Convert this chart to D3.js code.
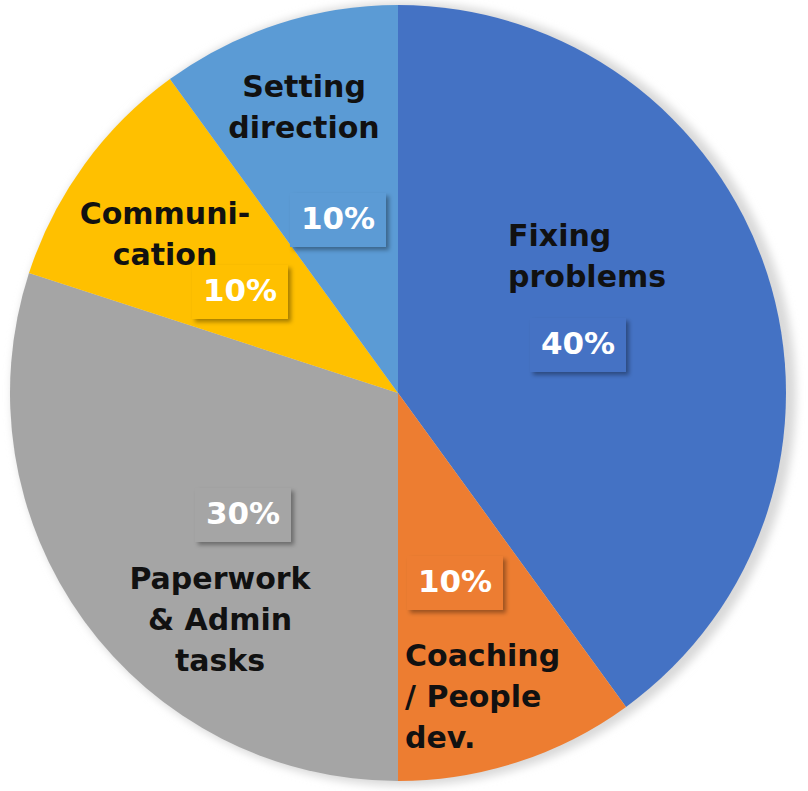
<!DOCTYPE html>
<html><head><meta charset="utf-8">
<script src="https://cdn.jsdelivr.net/npm/d3@7"></script>
<style>body{margin:0;background:#fff}svg{display:block}</style>
</head><body>
<script>
const categories = ["Fixing problems","Coaching / People dev.","Paperwork & Admin tasks","Communication","Setting direction"];
const values = [40,10,30,10,10];
const colors = ["#4472C4","#ED7D31","#A5A5A5","#FFC000","#5B9BD5"];
const nameLines = [["Fixing","problems"],["Coaching","/ People","dev."],["Paperwork","& Admin","tasks"],["Communi-","cation"],["Setting","direction"]];
const namePos = [[508,237,"start"],[405,657,"start"],[220,580,"middle"],[165,215,"middle"],[304,88,"middle"]];
const pctPos = [[578,345],[455,583],[243,515],[240,292],[338,220]];

const W=808,H=791,cx=398,cy=393,R=388;
const svg=d3.select("body").append("svg").attr("width",W).attr("height",H);
const defs=svg.append("defs");
const f=defs.append("filter").attr("id","blur").attr("x","-10%").attr("y","-10%").attr("width","120%").attr("height","120%");
f.append("feGaussianBlur").attr("stdDeviation",4);
const s=defs.append("filter").attr("id","sh").attr("x","-20%").attr("y","-20%").attr("width","150%").attr("height","150%");
s.append("feDropShadow").attr("dx",3).attr("dy",3).attr("stdDeviation",2).attr("flood-color","#000").attr("flood-opacity",0.35);

svg.append("circle").attr("cx",cx+6).attr("cy",cy+1).attr("r",R+4).attr("fill","#d9d9d9").attr("filter","url(#blur)");
const g=svg.append("g").attr("transform",`translate(${cx},${cy})`);
const pie=d3.pie().sort(null).value(d=>d)(values);
const arc=d3.arc().innerRadius(0).outerRadius(R);
g.selectAll("path").data(pie).join("path").attr("d",arc).attr("fill",(d,i)=>colors[i]);

const font="'DejaVu Sans', Verdana, sans-serif";
pie.forEach((d,i)=>{
  const [x,y,a]=namePos[i];
  const t=svg.append("text").attr("font-family",font).attr("font-weight",700).attr("font-size",30).attr("fill","#111").attr("text-anchor",a);
  nameLines[i].forEach((l,k)=>t.append("tspan").attr("x",x).attr("y",y+k*41).attr("dominant-baseline","middle").text(l));
  const [px,py]=pctPos[i];
  const lab=d3.format(".0%")(values[i]/100);
  svg.append("rect").attr("x",px-48).attr("y",py-27).attr("width",96).attr("height",54).attr("fill",colors[i]).attr("filter","url(#sh)");
  svg.append("text").attr("x",px).attr("y",py).attr("dominant-baseline","middle").attr("text-anchor","middle")
    .attr("font-family",font).attr("font-weight",700).attr("font-size",31).attr("fill","#fff").text(lab);
});
</script>
</body></html>
